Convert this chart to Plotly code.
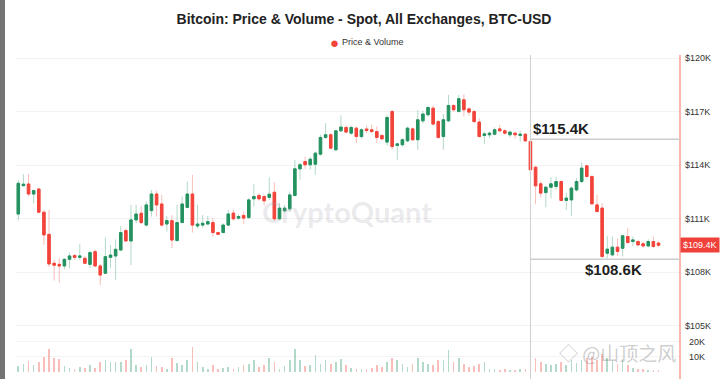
import plotly.graph_objects as go

# ---------------- data (values in thousand USD) ----------------
open_k = [111.26,112.85,112.94,112.38,112.66,111.36,110.12,108.50,108.44,108.35,
          108.72,108.93,108.83,108.78,108.44,109.15,108.35,107.94,108.83,108.91,
          109.24,110.33,109.75,110.93,111.30,110.64,111.45,112.38,111.82,110.70,
          110.89,109.77,110.78,111.63,112.38,110.59,110.64,110.70,110.78,110.22,
          110.22,110.64,111.31,111.03,111.18,111.06,112.11,112.30,112.24,112.19,
          112.48,110.99,111.44,111.55,112.30,113.79,114.20,114.02,114.05,114.61,
          115.55,115.70,114.86,115.92,116.11,115.79,116.07,115.60,116.02,115.98,
          115.88,115.66,115.29,117.00,115.10,115.14,115.36,116.03,115.42,116.48,
          116.82,117.19,116.44,115.60,116.48,117.34,117.00,117.66,117.15,117.00,
          116.41,115.66,115.70,115.73,116.03,115.92,115.70,115.79,115.66,115.73,
          115.32,113.88,112.95,112.46,112.76,112.80,113.08,112.02,112.05,112.61,
          113.08,113.96,113.36,111.77,111.59,109.06,108.97,109.40,109.34,110.00,
          109.72,109.72,109.59,109.47,109.72,109.63]
high_k = [113.13,113.49,113.50,112.61,112.70,111.49,111.49,108.68,108.78,108.78,
          109.10,109.02,109.58,108.87,109.21,109.28,108.46,109.95,109.52,109.84,
          110.59,110.46,111.77,111.77,111.71,111.95,112.61,112.57,112.33,111.15,
          111.20,111.77,112.23,113.07,113.45,111.77,111.20,111.15,111.02,110.27,
          110.74,111.49,111.50,111.25,111.40,112.15,112.93,112.43,112.33,113.31,
          113.04,111.87,111.77,112.52,114.30,114.11,114.48,114.48,114.76,115.70,
          116.35,115.79,115.98,116.78,116.22,116.22,116.16,116.07,116.22,116.26,
          116.16,115.73,116.82,117.10,115.23,115.51,116.16,116.11,117.10,117.04,
          117.29,117.34,116.54,116.86,117.94,117.42,117.94,117.98,117.23,117.10,
          116.63,115.88,115.88,116.11,116.26,116.03,115.92,115.85,115.92,115.79,
          115.42,113.96,113.08,112.84,113.32,113.36,113.14,112.43,112.80,113.27,
          114.15,114.02,113.45,112.33,111.87,110.04,110.00,109.90,110.09,110.47,
          110.00,109.81,109.72,109.85,110.00,109.72]
low_k = [110.89,112.80,112.27,111.86,111.30,109.53,108.31,107.53,107.41,108.16,
         108.22,108.68,108.68,108.46,108.22,108.30,107.28,107.90,108.22,107.56,
         109.20,109.71,108.40,110.74,110.70,110.55,111.11,111.11,110.55,110.27,
         109.34,109.71,110.74,111.58,110.22,110.46,110.50,110.64,109.99,110.09,
         110.18,110.59,110.88,110.93,110.69,110.99,111.68,112.00,111.74,112.05,
         110.88,110.93,111.36,111.40,112.24,113.18,113.79,113.74,113.46,114.54,
         115.47,114.91,114.80,115.88,115.79,115.70,115.23,115.47,115.79,115.79,
         115.23,115.42,115.10,114.86,114.30,115.04,115.29,115.36,114.86,116.35,
         116.72,116.22,115.47,114.86,116.41,117.00,116.97,116.73,116.78,116.35,
         115.55,115.17,115.51,115.66,115.88,115.70,115.55,115.47,115.32,115.29,
         113.68,111.80,112.20,111.64,112.15,112.61,111.96,111.49,111.16,112.52,
         112.99,113.32,111.77,111.34,108.80,108.76,108.88,108.92,108.88,109.59,
         109.44,109.44,109.34,109.40,109.34,109.40]
close_k = [112.98,112.93,112.38,112.57,111.36,110.09,108.46,108.39,108.35,108.72,
           108.91,108.83,108.91,108.50,109.10,108.35,107.84,108.87,108.96,109.28,
           110.22,109.75,110.93,111.26,110.78,111.77,112.38,111.77,110.64,110.89,
           109.80,110.78,111.82,112.38,110.64,110.70,110.74,110.83,110.22,110.12,
           110.64,111.26,110.99,111.12,111.03,112.05,112.24,112.11,112.00,112.37,
           110.99,111.59,111.59,112.33,113.79,114.02,114.02,114.33,114.67,115.55,
           115.70,114.95,115.92,116.13,115.85,116.11,115.60,115.98,115.94,115.88,
           115.55,115.47,116.67,115.04,115.19,115.42,116.07,115.42,116.54,116.86,
           117.23,116.30,115.55,116.54,117.34,117.10,117.72,117.10,116.97,116.44,
           115.60,115.75,115.79,115.98,115.92,115.79,115.85,115.70,115.73,115.36,
           113.74,112.84,112.43,112.76,112.95,113.08,112.02,112.15,112.71,113.08,
           113.83,113.36,111.83,111.40,108.88,109.29,109.40,109.16,110.04,109.66,
           109.81,109.53,109.47,109.72,109.44,109.51]
volume_k = [4.0,5.5,7.5,4.5,6.5,10.0,15.5,9.0,8.5,4.0,
            2.7,2.2,3.3,2.7,4.5,2.7,6.5,7.8,6.5,6.5,
            6.5,7.8,15.5,4.5,3.3,4.5,10.0,4.0,3.3,2.2,
            9.0,6.2,4.5,7.8,16.5,6.5,3.3,1.8,4.5,2.2,
            2.7,3.3,2.2,3.3,4.5,5.5,7.8,3.3,4.5,9.0,
            6.5,2.2,4.0,7.8,15.5,7.8,4.0,4.9,11.0,5.5,
            7.8,5.5,6.5,8.5,4.5,2.7,2.2,1.8,2.2,2.7,
            4.5,3.3,6.5,9.0,7.8,5.5,3.3,5.5,9.0,6.5,
            5.5,4.5,7.8,7.8,14.5,6.5,9.0,5.5,3.3,4.0,
            5.5,6.5,2.2,1.8,1.1,1.8,1.3,1.1,1.8,2.2,
            16.5,9.0,6.5,5.5,4.9,5.5,6.5,4.5,7.8,6.0,
            8.0,9.0,10.0,8.0,12.0,9.0,7.0,5.5,8.5,4.5,
            2.7,2.2,1.8,1.3,1.5,1.2]

price_ticks = [105, 108, 111, 114, 117, 120]
price_tick_text = ["$105K", "$108K", "$111K", "$114K", "$117K", "$120K"]
vol_ticks = [10, 20]
vol_tick_text = ["10K", "20K"]

marker_index = 100          # candle where the drop starts
level_high = 115.45         # "$115.4K"
level_low = 108.72          # "$108.6K"
level_high_text = "$115.4K"
level_low_text = "$108.6K"
last_price_text = "$109.4K"

title_text = "Bitcoin: Price & Volume - Spot, All Exchanges, BTC-USD"
legend_text = "Price & Volume"

# ---------------- styling ----------------
GREEN = "rgb(36,146,96)"
RED = "rgb(242,68,58)"
GREEN_L = "rgba(36,146,96,0.35)"
RED_L = "rgba(242,68,58,0.35)"
FONT = "Liberation Sans, Arial, sans-serif"

W, H = 728, 379
ML, MR, MT, MB = 16, 48, 50, 0
PW, PH = W - ML - MR, H - MT - MB

x = list(range(len(close_k)))
XMIN, XMAX = -0.45, 129.2

def py(pix):  # pixel row -> paper y
    return (H - MB - pix) / PH

def px(pix):  # pixel column -> paper x
    return (pix - ML) / PW

fig = go.Figure()

# wicks (light)
fig.add_trace(go.Candlestick(
    x=x, open=open_k, high=high_k, low=low_k, close=close_k,
    increasing=dict(line=dict(color=GREEN_L, width=1), fillcolor="rgba(0,0,0,0)"),
    decreasing=dict(line=dict(color=RED_L, width=1), fillcolor="rgba(0,0,0,0)"),
    whiskerwidth=0, hoverinfo="skip", showlegend=False, yaxis="y"))

# bodies (solid)
body_hi = [max(o, c) for o, c in zip(open_k, close_k)]
body_lo = [min(o, c) for o, c in zip(open_k, close_k)]
fig.add_trace(go.Candlestick(
    x=x, open=open_k, high=body_hi, low=body_lo, close=close_k,
    increasing=dict(line=dict(color=GREEN, width=1), fillcolor=GREEN),
    decreasing=dict(line=dict(color=RED, width=1), fillcolor=RED),
    whiskerwidth=0, showlegend=False, yaxis="y"))

vol_colors = [GREEN_L if c >= o else RED_L for o, c in zip(open_k, close_k)]
fig.add_trace(go.Bar(x=x, y=volume_k, marker=dict(color=vol_colors, line=dict(width=0)),
                     width=0.32, showlegend=False, yaxis="y2", hoverinfo="skip"))

price_bottom = py(330)
vol_top = py(334)

fig.update_layout(
    width=W, height=H, margin=dict(l=ML, r=MR, t=MT, b=MB),
    paper_bgcolor="white", plot_bgcolor="white",
    font=dict(family=FONT, color="#333", size=9),
    title=dict(text="<b>" + title_text + "</b>", x=0.5, xref="container", xanchor="center",
               y=1 - 19 / H, yref="container", yanchor="middle",
               font=dict(size=14, color="#222", family=FONT)),
    xaxis=dict(range=[XMIN, XMAX], visible=False, rangeslider=dict(visible=False),
               showgrid=False, zeroline=False),
    yaxis=dict(domain=[price_bottom, 1], range=[104.76, 120.45], side="right",
               tickvals=price_ticks, ticktext=price_tick_text, showgrid=True,
               gridcolor="#f2f2f2", gridwidth=1, zeroline=False, showline=False,
               ticks="", ticklabelstandoff=4, tickfont=dict(size=9, color="#333")),
    yaxis2=dict(domain=[0, vol_top], range=[-4.67, 25.33], side="right", anchor="x",
                tickvals=vol_ticks, ticktext=vol_tick_text, showgrid=True,
                gridcolor="#f4f4f4", zeroline=False, showline=False, ticks="",
                ticklabelstandoff=8, tickfont=dict(size=9, color="#333")),
    bargap=0, showlegend=False,
)

shapes = [
    # left dark strip of screenshot
    dict(type="rect", xref="paper", yref="paper", x0=px(0), x1=px(5), y0=0, y1=H / PH,
         fillcolor="#747474", line=dict(width=0), layer="above"),
    # price axis line
    dict(type="line", xref="paper", yref="paper", x0=1, x1=1, y0=0, y1=py(55),
         line=dict(color="rgba(242,80,70,0.55)", width=1.5)),
    # vertical marker
    dict(type="line", xref="x", yref="paper", x0=marker_index, x1=marker_index, y0=0, y1=py(55),
         line=dict(color="#d0d0d0", width=1)),
    dict(type="line", xref="x", yref="y", x0=marker_index, x1=XMAX, y0=level_high, y1=level_high,
         line=dict(color="#cdcdcd", width=1.5)),
    dict(type="line", xref="x", yref="y", x0=marker_index, x1=XMAX, y0=level_low, y1=level_low,
         line=dict(color="#cdcdcd", width=1.5)),
]
fig.update_layout(shapes=shapes)

annotations = [
    dict(text="●", xref="paper", yref="paper", x=px(334), y=py(42), showarrow=False,
         font=dict(size=15, color=RED), xanchor="center", yanchor="middle"),
    dict(text=legend_text, xref="paper", yref="paper", x=px(340), y=py(42), showarrow=False,
         font=dict(size=9, color="#333"), xanchor="left", yanchor="middle"),
    dict(text="<b>" + level_high_text + "</b>", xref="x", yref="y", x=marker_index, y=level_high,
         xanchor="left", yanchor="bottom", xshift=1, yshift=0, showarrow=False,
         font=dict(size=15, color="#1e1e1e")),
    dict(text="<b>" + level_low_text + "</b>", xref="x", yref="y", x=116.2, y=level_low,
         xanchor="center", yanchor="top", showarrow=False,
         font=dict(size=15, color="#1e1e1e")),
    dict(text=last_price_text, xref="paper", yref="y", x=1, y=close_k[-1], xanchor="left",
         yanchor="middle", showarrow=False, bgcolor="#f0403a", borderpad=2,
         font=dict(size=9, color="white")),
    dict(text="<b>CryptoQuant</b>", xref="x", yref="y", x=64.2, y=111.38, showarrow=False,
         font=dict(size=29, color="rgba(150,150,165,0.2)", family="Lato, sans-serif")),
    dict(text="◇ @山顶之风", xref="paper", yref="paper", x=px(678), y=py(352), showarrow=False,
         xanchor="right", yanchor="middle",
         font=dict(size=19, color="rgba(130,130,130,0.4)", family="Noto Sans CJK SC")),
]
fig.update_layout(annotations=annotations)

fig.write_html("out.html", post_script="document.body.style.margin='0';",
               config={"displayModeBar": False})
